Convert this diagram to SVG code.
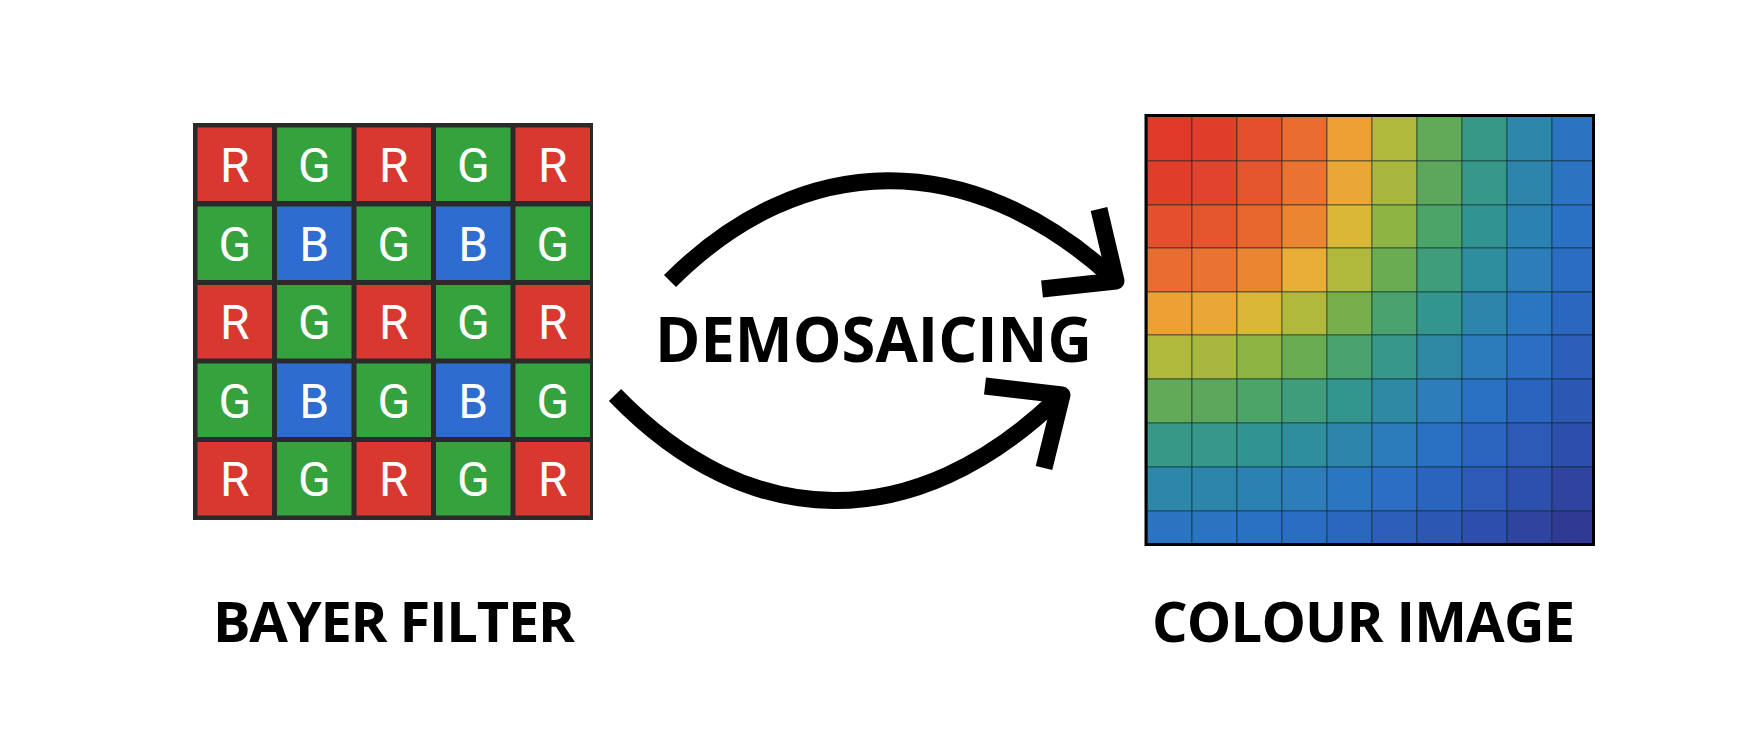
<svg xmlns="http://www.w3.org/2000/svg" width="1749" height="742" viewBox="0 0 1749 742">
<style>
.cell{stroke:none}
.r{fill:#d8382f}.g{fill:#35a23d}.b{fill:#2e6cd0}
.lt{font-family:Roboto,"Open Sans","Liberation Sans",sans-serif;font-size:48px;fill:#fff;text-anchor:middle}
.px{stroke:#0d2a2a;stroke-opacity:0.6;stroke-width:1}
.cap{font-family:"Open Sans","Noto Sans","Liberation Sans",sans-serif;font-weight:700;fill:#000;text-anchor:middle}
.arc{fill:none;stroke:#000;stroke-width:17;stroke-linecap:butt}
.head{fill:none;stroke:#000;stroke-width:17;stroke-linecap:butt;stroke-linejoin:round}
</style>
<rect width="1749" height="742" fill="#fff"/>
<g id="bayer-filter">
<rect x="193" y="123" width="400" height="397" fill="#2a2a2a"/>
<rect class="r" x="197.5" y="127.5" width="74.5" height="73.5"/><rect class="g" x="277" y="127.5" width="74.5" height="73.5"/><rect class="r" x="356.5" y="127.5" width="74.5" height="73.5"/><rect class="g" x="436" y="127.5" width="74.5" height="73.5"/><rect class="r" x="515.5" y="127.5" width="74.5" height="73.5"/>
<rect class="g" x="197.5" y="206.5" width="74.5" height="73.5"/><rect class="b" x="277" y="206.5" width="74.5" height="73.5"/><rect class="g" x="356.5" y="206.5" width="74.5" height="73.5"/><rect class="b" x="436" y="206.5" width="74.5" height="73.5"/><rect class="g" x="515.5" y="206.5" width="74.5" height="73.5"/>
<rect class="r" x="197.5" y="285" width="74.5" height="73.5"/><rect class="g" x="277" y="285" width="74.5" height="73.5"/><rect class="r" x="356.5" y="285" width="74.5" height="73.5"/><rect class="g" x="436" y="285" width="74.5" height="73.5"/><rect class="r" x="515.5" y="285" width="74.5" height="73.5"/>
<rect class="g" x="197.5" y="363.5" width="74.5" height="73.5"/><rect class="b" x="277" y="363.5" width="74.5" height="73.5"/><rect class="g" x="356.5" y="363.5" width="74.5" height="73.5"/><rect class="b" x="436" y="363.5" width="74.5" height="73.5"/><rect class="g" x="515.5" y="363.5" width="74.5" height="73.5"/>
<rect class="r" x="197.5" y="442" width="74.5" height="73.5"/><rect class="g" x="277" y="442" width="74.5" height="73.5"/><rect class="r" x="356.5" y="442" width="74.5" height="73.5"/><rect class="g" x="436" y="442" width="74.5" height="73.5"/><rect class="r" x="515.5" y="442" width="74.5" height="73.5"/>
<text class="lt" x="234.75" y="181.5">R</text><text class="lt" x="314.25" y="181.5">G</text><text class="lt" x="393.75" y="181.5">R</text><text class="lt" x="473.25" y="181.5">G</text><text class="lt" x="552.75" y="181.5">R</text>
<text class="lt" x="234.75" y="260.5">G</text><text class="lt" x="314.25" y="260.5">B</text><text class="lt" x="393.75" y="260.5">G</text><text class="lt" x="473.25" y="260.5">B</text><text class="lt" x="552.75" y="260.5">G</text>
<text class="lt" x="234.75" y="339">R</text><text class="lt" x="314.25" y="339">G</text><text class="lt" x="393.75" y="339">R</text><text class="lt" x="473.25" y="339">G</text><text class="lt" x="552.75" y="339">R</text>
<text class="lt" x="234.75" y="417.5">G</text><text class="lt" x="314.25" y="417.5">B</text><text class="lt" x="393.75" y="417.5">G</text><text class="lt" x="473.25" y="417.5">B</text><text class="lt" x="552.75" y="417.5">G</text>
<text class="lt" x="234.75" y="496">R</text><text class="lt" x="314.25" y="496">G</text><text class="lt" x="393.75" y="496">R</text><text class="lt" x="473.25" y="496">G</text><text class="lt" x="552.75" y="496">R</text>
</g>
<g id="colour-image">
<g class="px">
<rect x="1147" y="116" width="45" height="45" fill="#e0392a"/><rect x="1192" y="116" width="45" height="45" fill="#e13d2b"/><rect x="1237" y="116" width="45" height="45" fill="#e4502d"/><rect x="1282" y="116" width="45" height="45" fill="#e96c30"/><rect x="1327" y="116" width="45" height="45" fill="#eda034"/><rect x="1372" y="116" width="45" height="45" fill="#b0b93c"/><rect x="1417" y="116" width="45" height="45" fill="#62a958"/><rect x="1462" y="116" width="45" height="45" fill="#379888"/><rect x="1507" y="116" width="45" height="45" fill="#2d87a9"/><rect x="1552" y="116" width="41" height="45" fill="#2b74c2"/>
<rect x="1147" y="161" width="45" height="44" fill="#e13d2b"/><rect x="1192" y="161" width="45" height="44" fill="#e2432c"/><rect x="1237" y="161" width="45" height="44" fill="#e5552e"/><rect x="1282" y="161" width="45" height="44" fill="#ea7331"/><rect x="1327" y="161" width="45" height="44" fill="#eaa735"/><rect x="1372" y="161" width="45" height="44" fill="#a8b83e"/><rect x="1417" y="161" width="45" height="44" fill="#5ca75c"/><rect x="1462" y="161" width="45" height="44" fill="#36988a"/><rect x="1507" y="161" width="45" height="44" fill="#2d85ac"/><rect x="1552" y="161" width="41" height="44" fill="#2b74c2"/>
<rect x="1147" y="205" width="45" height="43" fill="#e4502d"/><rect x="1192" y="205" width="45" height="43" fill="#e5552e"/><rect x="1237" y="205" width="45" height="43" fill="#e8672f"/><rect x="1282" y="205" width="45" height="43" fill="#ec8532"/><rect x="1327" y="205" width="45" height="43" fill="#dab837"/><rect x="1372" y="205" width="45" height="43" fill="#8eb443"/><rect x="1417" y="205" width="45" height="43" fill="#4da469"/><rect x="1462" y="205" width="45" height="43" fill="#329492"/><rect x="1507" y="205" width="45" height="43" fill="#2c81b3"/><rect x="1552" y="205" width="41" height="43" fill="#2b71c3"/>
<rect x="1147" y="248" width="45" height="44" fill="#e96c30"/><rect x="1192" y="248" width="45" height="44" fill="#ea7331"/><rect x="1237" y="248" width="45" height="44" fill="#ec8532"/><rect x="1282" y="248" width="45" height="44" fill="#e8ad36"/><rect x="1327" y="248" width="45" height="44" fill="#b0b93c"/><rect x="1372" y="248" width="45" height="44" fill="#6aac51"/><rect x="1417" y="248" width="45" height="44" fill="#3f9d7b"/><rect x="1462" y="248" width="45" height="44" fill="#2f8e9d"/><rect x="1507" y="248" width="45" height="44" fill="#2c7dba"/><rect x="1552" y="248" width="41" height="44" fill="#2b6dc3"/>
<rect x="1147" y="292" width="45" height="43" fill="#eda034"/><rect x="1192" y="292" width="45" height="43" fill="#eaa735"/><rect x="1237" y="292" width="45" height="43" fill="#dab837"/><rect x="1282" y="292" width="45" height="43" fill="#b0b93c"/><rect x="1327" y="292" width="45" height="43" fill="#78ae4b"/><rect x="1372" y="292" width="45" height="43" fill="#4aa26e"/><rect x="1417" y="292" width="45" height="43" fill="#33968e"/><rect x="1462" y="292" width="45" height="43" fill="#2d85ac"/><rect x="1507" y="292" width="45" height="43" fill="#2b76c1"/><rect x="1552" y="292" width="41" height="43" fill="#2b66bf"/>
<rect x="1147" y="335" width="45" height="44" fill="#b0b93c"/><rect x="1192" y="335" width="45" height="44" fill="#a8b83e"/><rect x="1237" y="335" width="45" height="44" fill="#8eb443"/><rect x="1282" y="335" width="45" height="44" fill="#6aac51"/><rect x="1327" y="335" width="45" height="44" fill="#4aa26e"/><rect x="1372" y="335" width="45" height="44" fill="#36988a"/><rect x="1417" y="335" width="45" height="44" fill="#2e8aa4"/><rect x="1462" y="335" width="45" height="44" fill="#2c7cbb"/><rect x="1507" y="335" width="45" height="44" fill="#2b6ec4"/><rect x="1552" y="335" width="41" height="44" fill="#2b5fba"/>
<rect x="1147" y="379" width="45" height="44" fill="#62a958"/><rect x="1192" y="379" width="45" height="44" fill="#5ca75c"/><rect x="1237" y="379" width="45" height="44" fill="#4da469"/><rect x="1282" y="379" width="45" height="44" fill="#3f9d7b"/><rect x="1327" y="379" width="45" height="44" fill="#33968e"/><rect x="1372" y="379" width="45" height="44" fill="#2e8aa4"/><rect x="1417" y="379" width="45" height="44" fill="#2c7db9"/><rect x="1462" y="379" width="45" height="44" fill="#2b71c3"/><rect x="1507" y="379" width="45" height="44" fill="#2b64be"/><rect x="1552" y="379" width="41" height="44" fill="#2c58b4"/>
<rect x="1147" y="423" width="45" height="44" fill="#379888"/><rect x="1192" y="423" width="45" height="44" fill="#36988a"/><rect x="1237" y="423" width="45" height="44" fill="#329492"/><rect x="1282" y="423" width="45" height="44" fill="#2f8e9d"/><rect x="1327" y="423" width="45" height="44" fill="#2d85ac"/><rect x="1372" y="423" width="45" height="44" fill="#2c7cbb"/><rect x="1417" y="423" width="45" height="44" fill="#2b71c3"/><rect x="1462" y="423" width="45" height="44" fill="#2b65bf"/><rect x="1507" y="423" width="45" height="44" fill="#2c5ab6"/><rect x="1552" y="423" width="41" height="44" fill="#2d4eaa"/>
<rect x="1147" y="467" width="45" height="44" fill="#2d87a9"/><rect x="1192" y="467" width="45" height="44" fill="#2d85ac"/><rect x="1237" y="467" width="45" height="44" fill="#2c81b3"/><rect x="1282" y="467" width="45" height="44" fill="#2c7dba"/><rect x="1327" y="467" width="45" height="44" fill="#2b76c1"/><rect x="1372" y="467" width="45" height="44" fill="#2b6ec4"/><rect x="1417" y="467" width="45" height="44" fill="#2b64be"/><rect x="1462" y="467" width="45" height="44" fill="#2c5ab6"/><rect x="1507" y="467" width="45" height="44" fill="#2d50ac"/><rect x="1552" y="467" width="41" height="44" fill="#2e449f"/>
<rect x="1147" y="511" width="45" height="33" fill="#2b74c2"/><rect x="1192" y="511" width="45" height="33" fill="#2b74c2"/><rect x="1237" y="511" width="45" height="33" fill="#2b71c3"/><rect x="1282" y="511" width="45" height="33" fill="#2b6dc3"/><rect x="1327" y="511" width="45" height="33" fill="#2b66bf"/><rect x="1372" y="511" width="45" height="33" fill="#2b5fba"/><rect x="1417" y="511" width="45" height="33" fill="#2c58b4"/><rect x="1462" y="511" width="45" height="33" fill="#2d4eaa"/><rect x="1507" y="511" width="45" height="33" fill="#2e449f"/><rect x="1552" y="511" width="41" height="33" fill="#303a92"/>
</g>
<rect x="1146" y="115.5" width="447.5" height="429" fill="none" stroke="#000" stroke-width="3"/>
</g>
<g id="connectors">
<path class="arc" d="M670,281 C803,148 970,148 1112,277"/>
<polyline class="head" points="1099,209 1116,281 1042,289"/>
<path class="arc" d="M615,395 C750,535 915,535 1057,399"/>
<polyline class="head" points="985,386 1062,395 1044,468"/>
</g>
<g id="demosaicing-label">
<text class="cap" x="873.5" y="362" font-size="63" textLength="437" lengthAdjust="spacingAndGlyphs">DEMOSAICING</text>
</g>
<g id="bayer-label">
<text class="cap" x="394" y="642" font-size="56" textLength="362" lengthAdjust="spacing">BAYER FILTER</text>
</g>
<g id="colour-label">
<text class="cap" x="1363.5" y="642" font-size="56" textLength="423" lengthAdjust="spacing">COLOUR IMAGE</text>
</g>
</svg>
